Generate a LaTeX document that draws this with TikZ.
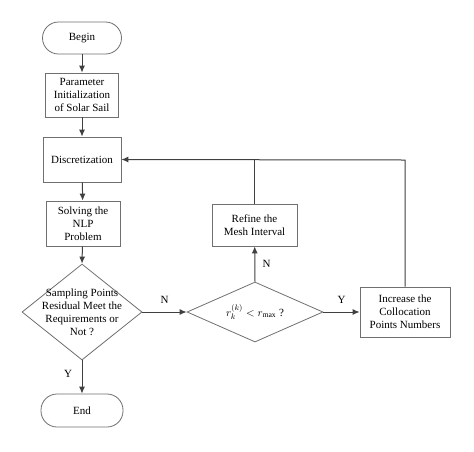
\documentclass[tikz,border=0pt]{standalone}
\usepackage{fontspec}
\setmainfont{Liberation Serif}
\usetikzlibrary{arrows.meta,shapes.geometric}
\definecolor{ln}{HTML}{404040}
\definecolor{bx}{HTML}{707070}
\begin{document}
\begin{tikzpicture}[x=1pt,y=-1pt,
  every node/.style={font=\fontsize{11}{13}\selectfont, text=black, align=center},
  proc/.style={draw=bx, line width=0.8pt, inner sep=0pt},
  term/.style={draw=bx, line width=0.8pt, rounded corners=16pt, inner sep=0pt, minimum height=32pt},
  dec/.style={draw=bx, line width=0.8pt, diamond, inner sep=0pt},
  arr/.style={draw=ln, line width=1pt, -{Latex[length=7pt,width=6pt]}},
  lbl/.style={font=\fontsize{11}{13}\selectfont}]
\useasboundingbox (0,0) rectangle (474,451);
\fill[white] (0,0) rectangle (474,451);
\node[term, minimum width=79pt] (begin) at (82,38) {Begin};
\node[proc, minimum width=73pt, minimum height=44pt] (param) at (82,95) {Parameter\\Initialization\\of Solar Sail};
\node[proc, minimum width=78pt, minimum height=45pt] (disc) at (82,159.5) {Discretization};
\node[proc, minimum width=74pt, minimum height=45pt] (solve) at (83,223.5) {Solving the\\NLP\\Problem};
\node[dec, minimum width=120pt, minimum height=96pt] (samp) at (82,312) {};
\node at (82,312) {Sampling Points\\Residual Meet the\\Requirements or\\Not ?};
\node[term, minimum width=82pt, minimum height=33pt] (end) at (82,410.5) {End};
\node[dec, minimum width=136pt, minimum height=60pt] (rk) at (255,312) {};
\node at (255,312) {$r_k^{(k)} < r_{\max}$ ?};
\node[proc, minimum width=85pt, minimum height=42pt] (refine) at (254.5,225) {Refine the\\Mesh Interval};
\node[proc, minimum width=90pt, minimum height=50pt] (inc) at (405,312) {Increase the\\Collocation\\Points Numbers};
\coordinate (c1) at (254.5,160);
\coordinate (c2) at (405,160);
\draw[arr] (begin) -- (param);
\draw[arr] (param) -- (disc);
\draw[arr] (disc) -- (solve);
\draw[arr] (solve) -- (samp.north);
\draw[arr] (samp.south) -- node[lbl, left=6pt, pos=0.4] {Y} (end);
\draw[arr] (samp.east) -- node[lbl, above=5pt] {N} (rk.west);
\draw[arr] (rk.north) -- node[lbl, right=4pt] {N} (refine);
\draw[arr] (rk.east) -- node[lbl, above=5pt] {Y} (inc);
\draw[draw=ln, line width=1pt] (refine.north) -- (c1);
\draw[arr] (inc.north) -- (c2) -- (disc.east);
\end{tikzpicture}
\end{document}
